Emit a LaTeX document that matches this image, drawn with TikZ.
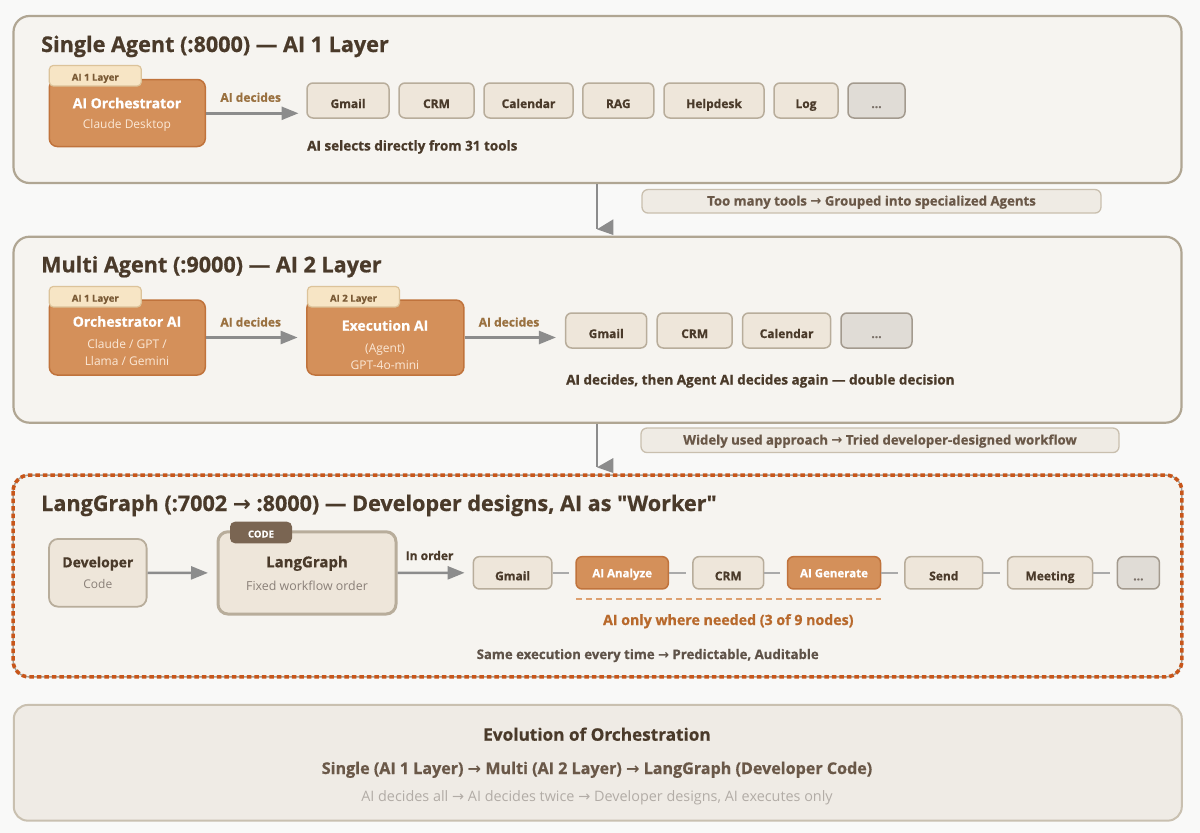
\documentclass[tikz,border=0pt]{standalone}
\usepackage{fontspec}
\setmainfont{Open Sans}[BoldFeatures={FakeBold=0.7}]
\newfontfamily\symf{DejaVu Sans}
\usetikzlibrary{arrows.meta}
\definecolor{bgc}{HTML}{F9F9F8}
\definecolor{panelf}{HTML}{F6F4F0}
\definecolor{panelb}{HTML}{B0A693}
\definecolor{titlec}{HTML}{4A3A2A}
\definecolor{orangef}{HTML}{D4905A}
\definecolor{orangeb}{HTML}{C0733C}
\definecolor{orsub}{HTML}{FBE8D6}
\definecolor{tabf}{HTML}{F7E5C5}
\definecolor{tabb}{HTML}{DCC39A}
\definecolor{tabt}{HTML}{7A5A35}
\definecolor{toolf}{HTML}{EEE6DA}
\definecolor{toolb}{HTML}{B8AD9B}
\definecolor{moref}{HTML}{E0DCD6}
\definecolor{moreb}{HTML}{A39A8E}
\definecolor{moret}{HTML}{7A7068}
\definecolor{arrc}{HTML}{8C8C8C}
\definecolor{decc}{HTML}{9A7140}
\definecolor{notef}{HTML}{EFEBE4}
\definecolor{noteb}{HTML}{C9BFAE}
\definecolor{notet}{HTML}{6A5848}
\definecolor{subg}{HTML}{8A8078}
\definecolor{codef}{HTML}{7A6552}
\definecolor{dashc}{HTML}{C8561A}
\definecolor{dashg}{HTML}{A59E94}
\definecolor{ulc}{HTML}{DDA070}
\definecolor{onlyc}{HTML}{B8692C}
\definecolor{samec}{HTML}{5E5248}
\definecolor{evf}{HTML}{EFEBE5}
\definecolor{evb}{HTML}{C9C0B0}
\definecolor{lightt}{HTML}{B2ACA6}
\definecolor{chainc}{HTML}{AAAAAA}
\newcommand\myfs[1]{\fontsize{#1}{#1}\selectfont}
\newcommand\rarr{{\symf →}}
\begin{document}
\begin{tikzpicture}[x=1pt,y=-1pt,
  panel/.style={draw=panelb, fill=panelf, line width=2.2pt, rounded corners=16pt, inner sep=0pt},
  ttl/.style={anchor=base west, font=\bfseries\myfs{21.6}, text=titlec, inner sep=0pt},
  obox/.style={draw=orangeb, fill=orangef, line width=1.5pt, rounded corners=8pt, inner sep=0pt},
  otxt/.style={anchor=base, font=\bfseries\myfs{14}, text=white, inner sep=0pt},
  osub/.style={anchor=base, font=\myfs{12}, text=orsub, inner sep=0pt},
  tabn/.style={draw=tabb, fill=tabf, line width=1.2pt, rounded corners=4pt, inner sep=0pt, minimum width=92pt, minimum height=20.5pt, font=\bfseries\myfs{9.6}, text=tabt, text height=10pt, text depth=0pt},
  tool/.style={draw=toolb, fill=toolf, line width=1.5pt, rounded corners=6pt, inner sep=0pt, minimum height=35pt, font=\bfseries\myfs{12}, text=titlec, text height=15pt, text depth=0pt},
  more/.style={tool, draw=moreb, fill=moref, text=moret},
  arr/.style={draw=arrc, line width=2.5pt, -{Triangle[length=17pt,width=13pt]}},
  dec/.style={anchor=base, font=\bfseries\myfs{12}, text=decc, inner sep=0pt},
  note/.style={anchor=base west, font=\bfseries\myfs{13.5}, text=titlec, inner sep=0pt},
  lbox/.style={draw=noteb, fill=notef, line width=1.3pt, rounded corners=6pt, inner sep=0pt, font=\bfseries\myfs{13.2}, text=notet, text height=8.6pt, text depth=0pt},
  link/.style={draw=arrc, line width=2.5pt},
  chain/.style={draw=chainc, line width=2.2pt, shorten >=6.5pt},
  ltool/.style={tool, minimum height=32.3pt, text height=15pt},
  lor/.style={obox, rounded corners=6pt, minimum height=32.3pt, font=\bfseries\myfs{11.5}, text=white, text height=9pt, text depth=0pt},
  lmore/.style={more, minimum height=32.3pt},
  beige/.style={draw=toolb, fill=toolf, line width=1.8pt, rounded corners=9pt, inner sep=0pt}
]
\useasboundingbox[fill=bgc] (0,0) rectangle (1200,833);

%% ---------------- Panel 1
\node[panel, minimum width=1168pt, minimum height=167pt] (p1) at (597.5,99.5) {};
\node[ttl] (t1) at (41,52) {Single Agent (:8000) — AI 1 Layer};
\node[obox, minimum width=156pt, minimum height=67pt] (orch1) at (127.3,113) {};
\node[tabn] (tab1) at (95.3,75.7) {AI 1 Layer};
\node[otxt] (orch1t) at (127,108.3) {AI Orchestrator};
\node[osub] (orch1s) at (127,128.5) {Claude Desktop};
\node[tool, minimum width=82pt] (g1) at (348,100.5) {Gmail};
\node[tool, minimum width=75pt] (c1) at (436.5,100.5) {CRM};
\node[tool, minimum width=89pt] (cal1) at (528.5,100.5) {Calendar};
\node[tool, minimum width=71pt] (rag1) at (618.3,100.5) {RAG};
\node[tool, minimum width=100pt] (h1) at (714,100.5) {Helpdesk};
\node[tool, minimum width=64pt] (l1) at (806,100.5) {Log};
\node[more, minimum width=57pt] (m1) at (876.5,100.5) {...};
\coordinate (a1e) at (307,113.3);
\draw[arr, shorten >=8.5pt] (orch1.east |- a1e) -- (a1e);
\node[dec] (d1) at (250.7,101.8) {AI decides};
\node[note] (n1) at (307,150.5) {AI selects directly from 31 tools};

%% ---------------- Connector 1
\node[lbox, minimum width=459pt, minimum height=23.5pt] (lb1) at (871.5,201.3) {Too many tools \rarr{} Grouped into specialized Agents};
\coordinate (c1tip) at (597,229.3);
\draw[link] (p1.south -| c1tip) -- (c1tip);
\fill[arrc] (c1tip) -- (613.3,219.3) -- (613.3,235) -- cycle;

%% ---------------- Panel 2
\node[panel, minimum width=1168pt, minimum height=186pt] (p2) at (597.5,329.7) {};
\node[ttl] (t2) at (41,272.3) {Multi Agent (:9000) — AI 2 Layer};
\node[obox, minimum width=156pt, minimum height=75pt] (orch2) at (127.3,337.5) {};
\node[tabn] (tab2) at (95.3,296.7) {AI 1 Layer};
\node[otxt] (orch2t) at (127,326.7) {Orchestrator AI};
\node[osub] (orch2s) at (127,348) {Claude / GPT /};
\node[osub] (orch2u) at (127,365.7) {Llama / Gemini};
\node[obox, minimum width=157pt, minimum height=75pt] (exec2) at (385.4,337.5) {};
\node[tabn] (tab3) at (353.5,296.7) {AI 2 Layer};
\node[otxt] (exec2t) at (385,330.7) {Execution AI};
\node[osub] (exec2s) at (385,352) {(Agent)};
\node[osub] (exec2u) at (385,369.3) {GPT-4o-mini};
\node[tool, minimum width=81pt] (g2) at (606.2,330.5) {Gmail};
\node[tool, minimum width=75pt] (c2) at (694.7,330.5) {CRM};
\node[tool, minimum width=88pt] (cal2) at (786.6,330.5) {Calendar};
\node[more, minimum width=71pt] (m2) at (876.5,330.5) {...};
\draw[arr, shorten >=8.5pt] (orch2.east) -- (exec2.west);
\draw[arr, shorten >=9pt] (exec2.east) -- (exec2.east -| g2.west);
\node[dec] (d2) at (250.7,326.5) {AI decides};
\node[dec] (d3) at (509,326.5) {AI decides};
\node[note] (n2) at (566,384.5) {AI decides, then Agent AI decides again — double decision};

%% ---------------- Connector 2
\node[lbox, minimum width=478pt, minimum height=24.5pt] (lb2) at (880,440.3) {Widely used approach \rarr{} Tried developer-designed workflow};
\coordinate (c2tip) at (597,467.3);
\draw[link] (p2.south -| c2tip) -- (c2tip);
\fill[arrc] (c2tip) -- (613.3,458) -- (613.3,473) -- cycle;

%% ---------------- Panel 3
\path[fill=panelf, rounded corners=16pt] (13.4,475.3) rectangle (1181.7,676.7);
\node[inner sep=0pt, minimum width=1168.3pt, minimum height=201.4pt] (p3) at (597.5,576) {};
\draw[dashg, line width=1.4pt, rounded corners=16pt] (p3.north west) rectangle (p3.south east);
\draw[dashc, line width=3.6pt, dash pattern=on 4.5pt off 3pt, rounded corners=16pt] (p3.north west) rectangle (p3.south east);
\node[ttl] (t3) at (41,511) {LangGraph (:7002 \rarr{} :8000) — Developer designs, AI as \textquotedbl Worker\textquotedbl};
\node[beige, minimum width=97.6pt, minimum height=67.7pt] (dev) at (97.8,572.8) {};
\node[anchor=base, inner sep=0pt, font=\bfseries\myfs{14}, text=titlec] (devt) at (97.8,567.3) {Developer};
\node[anchor=base, inner sep=0pt, font=\myfs{12}, text=subg] (devs) at (97.8,588.3) {Code};
\node[beige, line width=3pt, rounded corners=10pt, minimum width=178pt, minimum height=82.3pt] (lg) at (307,572.9) {};
\node[fill=codef, rounded corners=5pt, inner sep=0pt, minimum width=62pt, minimum height=21.6pt, font=\bfseries\myfs{9.6}, text=white, text height=10pt, text depth=0pt] (code) at (261,532.5) {CODE};
\node[anchor=base, inner sep=0pt, font=\bfseries\myfs{15}, text=titlec] (lgt) at (307,567.3) {LangGraph};
\node[anchor=base, inner sep=0pt, font=\myfs{12.4}, text=subg] (lgs) at (307,590) {Fixed workflow order};
\draw[arr, shorten >=8.5pt] (dev.east) -- (lg.west);
\node[ltool, minimum width=78.5pt] (g3) at (512.6,572.8) {Gmail};
\draw[arr, shorten >=8pt] (lg.east) -- (g3.west);
\node[anchor=base, inner sep=0pt, font=\bfseries\myfs{12}, text=titlec] (io) at (429.6,560) {In order};
\node[lor, minimum width=92.3pt] (ana) at (622.2,572.8) {AI Analyze};
\node[ltool, minimum width=70.8pt] (c3) at (728.3,572.8) {CRM};
\node[lor, minimum width=93pt] (gen) at (834,572.8) {AI Generate};
\node[ltool, minimum width=77.7pt] (snd) at (943.8,572.8) {Send};
\node[ltool, minimum width=85pt] (meet) at (1050,572.8) {Meeting};
\node[lmore, minimum width=42pt] (m3) at (1138.4,572.8) {...};
\draw[chain] (g3.east) -- (ana.west);
\draw[chain] (ana.east) -- (c3.west);
\draw[chain] (c3.east) -- (gen.west);
\draw[chain] (gen.east) -- (snd.west);
\draw[chain] (snd.east) -- (meet.west);
\draw[chain] (meet.east) -- (m3.west);
\coordinate (ul1) at (576,598.5);
\coordinate (ul2) at (880.5,598.5);
\draw[ulc, line width=2pt, dash pattern=on 6pt off 4pt] (ul1) -- (ul2);
\node[anchor=base, inner sep=0pt, font=\bfseries\myfs{14.2}, text=onlyc] (only) at (728.3,625) {AI only where needed (3 of 9 nodes)};
\node[anchor=base, inner sep=0pt, font=\bfseries\myfs{13.2}, text=samec] (same) at (647.7,659) {Same execution every time \rarr{} Predictable, Auditable};

%% ---------------- Panel 4
\node[draw=evb, fill=evf, line width=2pt, rounded corners=14pt, inner sep=0pt, minimum width=1168pt, minimum height=115.7pt] (p4) at (597.8,762.8) {};
\node[anchor=base, inner sep=0pt, font=\bfseries\myfs{17.2}, text=titlec] (ev1) at (597,740.7) {Evolution of Orchestration};
\node[anchor=base, inner sep=0pt, font=\bfseries\myfs{16.1}, text=notet] (ev2) at (597,774) {Single (AI 1 Layer) \rarr{} Multi (AI 2 Layer) \rarr{} LangGraph (Developer Code)};
\node[anchor=base, inner sep=0pt, font=\myfs{14.4}, text=lightt] (ev3) at (597,801.7) {AI decides all \rarr{} AI decides twice \rarr{} Developer designs, AI executes only};
\end{tikzpicture}
\end{document}
